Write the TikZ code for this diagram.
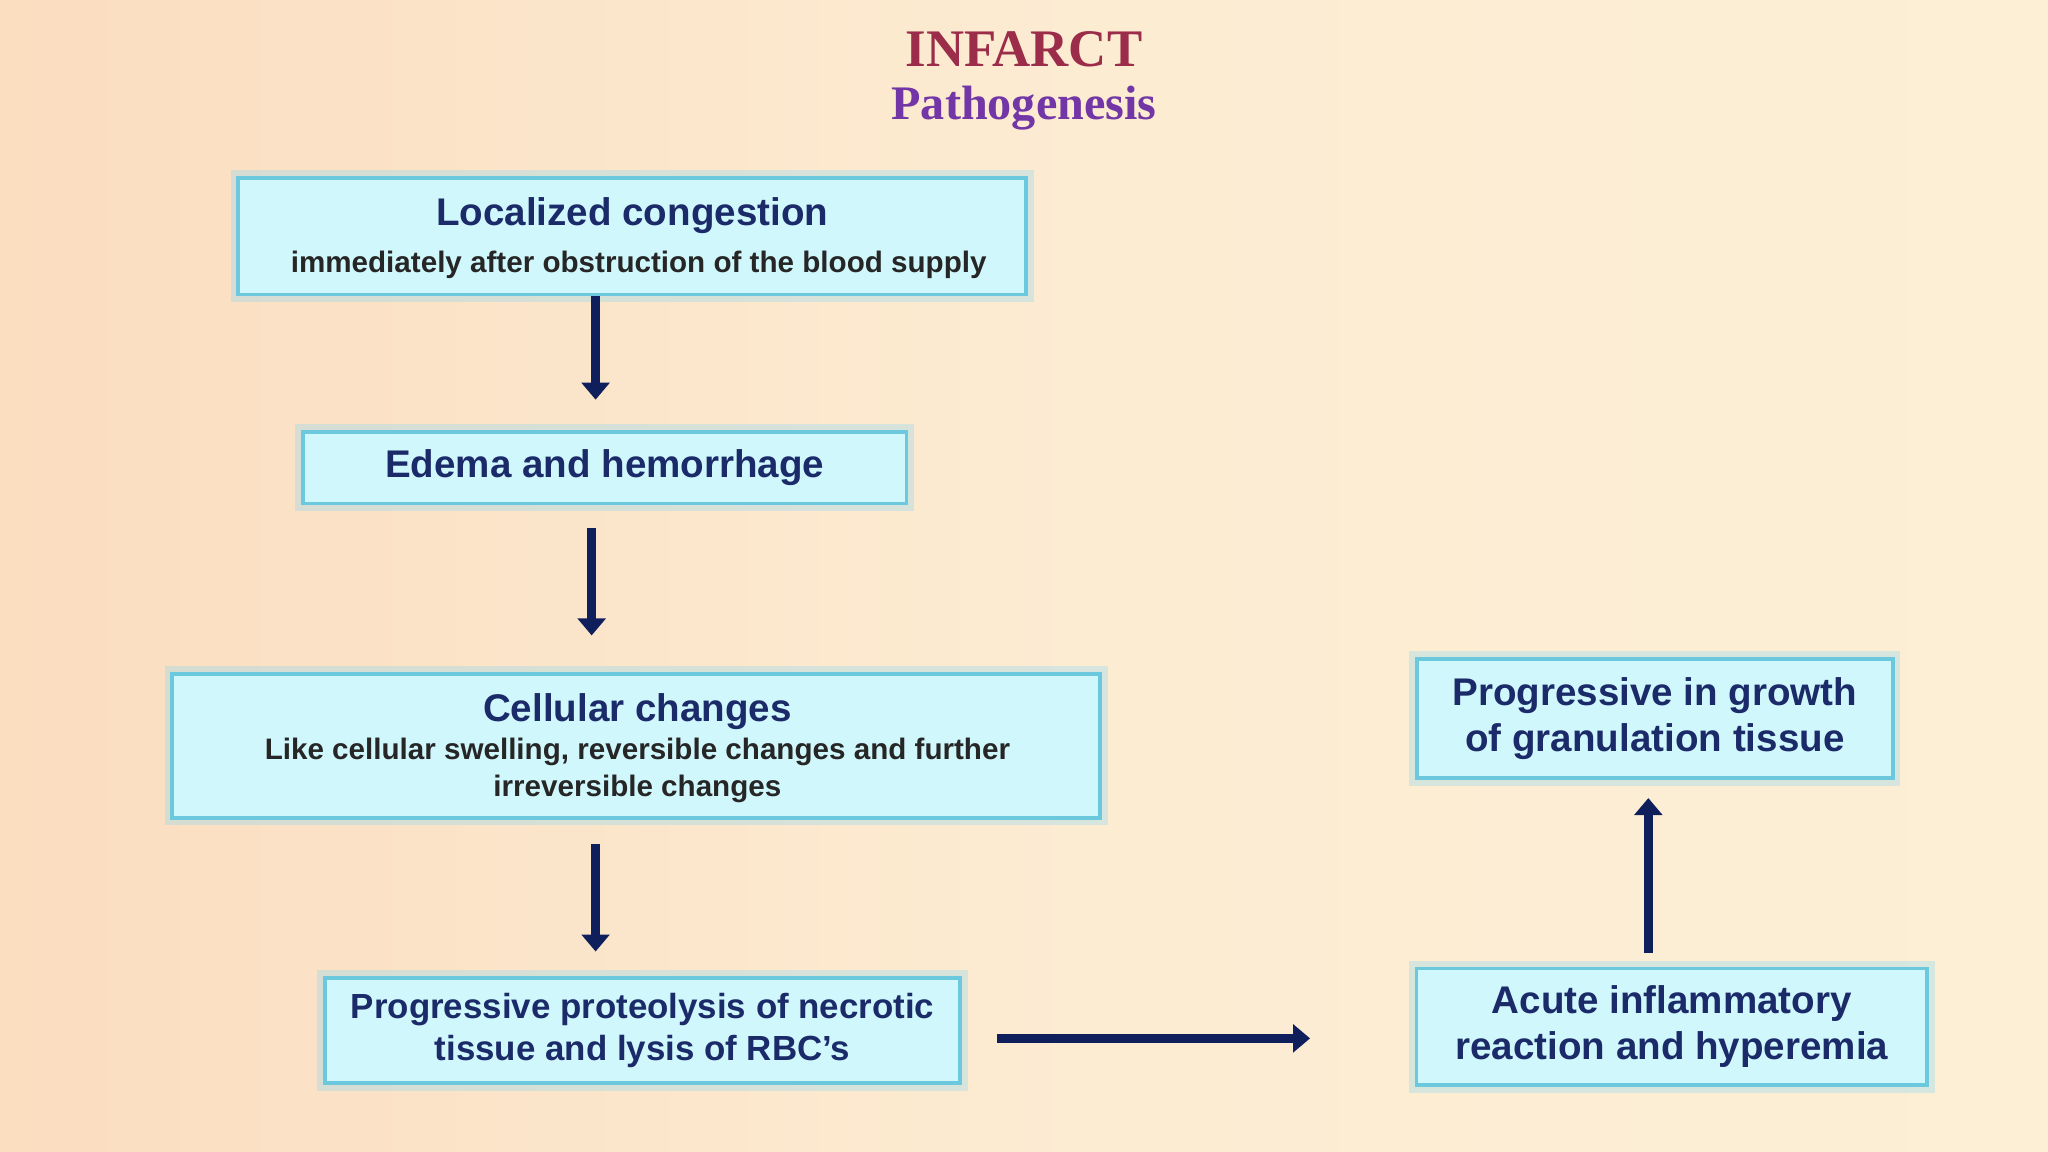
\documentclass[tikz,border=0pt]{standalone}
\usepackage{fontspec}
\setmainfont{Liberation Sans}
\newfontfamily\titlefont{Liberation Serif}
\usetikzlibrary{arrows.meta}
\definecolor{bgA}{HTML}{FBDDC0}
\definecolor{bgB}{HTML}{FCEFD6}
\definecolor{boxfill}{HTML}{D0F8FC}
\definecolor{boxline}{HTML}{6CC8DC}
\definecolor{txt}{HTML}{1B2A68}
\definecolor{arr}{HTML}{0F1F5C}
\definecolor{ttlA}{HTML}{9B2C4A}
\definecolor{ttlB}{HTML}{7236A6}
\tikzset{
  pbox/.style={draw=boxline, fill=boxfill, line width=0.06cm, inner sep=0pt,
    preaction={draw=cyan!50, line width=0.24cm, opacity=0.3},
    text=txt, font=\bfseries\fontsize{16.8}{21}\selectfont, align=center},
  conn/.style={draw=arr, line width=0.13cm,
    -{Triangle[width=0.42cm,length=0.26cm]}}
}
\begin{document}
\begin{tikzpicture}[x=0.02cm,y=-0.02cm]
\shade[left color=bgA, right color=bgB, middle color=bgB!80!bgA] (0,0) rectangle (1568,882);
\useasboundingbox (0,0) rectangle (1568,882);
\node[font=\titlefont\bfseries\fontsize{23}{26}\selectfont, text=ttlA] (t1) at (784,38) {INFARCT};
\node[font=\titlefont\bfseries\fontsize{21}{24}\selectfont, text=ttlB] (t2) at (784,83) {Pathogenesis};

\node[pbox, minimum width=603*0.02cm, minimum height=89*0.02cm] (b1) at (484,181) {};
\node[text=txt, font=\bfseries\fontsize{16.8}{20}\selectfont] (b1a) at (484,165) {Localized congestion};
\node[text=black!85, font=\bfseries\fontsize{12.9}{14}\selectfont] (b1b) at (489,203) {immediately after obstruction of the blood supply};

\node[pbox, minimum width=462*0.02cm, minimum height=55*0.02cm] (b2) at (463,358) {Edema and hemorrhage};

\node[pbox, minimum width=710*0.02cm, minimum height=110*0.02cm] (b3) at (487,571) {};
\node[text=txt, font=\bfseries\fontsize{16.8}{20}\selectfont] (b3a) at (488,545) {Cellular changes};
\node[text=black!85, font=\bfseries\fontsize{12.9}{16}\selectfont, align=center] (b3b) at (488,590) {Like cellular swelling, reversible changes and further\\irreversible changes};

\node[pbox, minimum width=486*0.02cm, minimum height=80*0.02cm, font=\bfseries\fontsize{15.2}{18.5}\selectfont] (b4) at (492,789) {Progressive proteolysis of necrotic\\tissue and lysis of RBC’s};

\node[pbox, minimum width=391*0.02cm, minimum height=89*0.02cm, font=\bfseries\fontsize{16.8}{20}\selectfont] (b5) at (1280,786) {Acute inflammatory\\reaction and hyperemia};

\node[pbox, minimum width=364*0.02cm, minimum height=91*0.02cm, font=\bfseries\fontsize{16.8}{20}\selectfont] (b6) at (1267,550) {Progressive in growth\\of granulation tissue};

\draw[conn, shorten >=0.46cm] (b1.south -| 456,0) -- (b2.north -| 456,0);
\draw[conn, shorten <=0.34cm, shorten >=0.56cm] (b2.south -| 453,0) -- (b3.north -| 453,0);
\draw[conn, shorten <=0.38cm, shorten >=0.38cm] (b3.south -| 456,0) -- (b4.north -| 456,0);
\draw[conn, shorten <=0.54cm, shorten >=1.6cm] (b4.east |- 0,795) -- (b5.west |- 0,795);
\draw[conn, shorten <=0.2cm, shorten >=0.28cm] (b5.north -| 1262,0) -- (b6.south -| 1262,0);
\end{tikzpicture}
\end{document}
